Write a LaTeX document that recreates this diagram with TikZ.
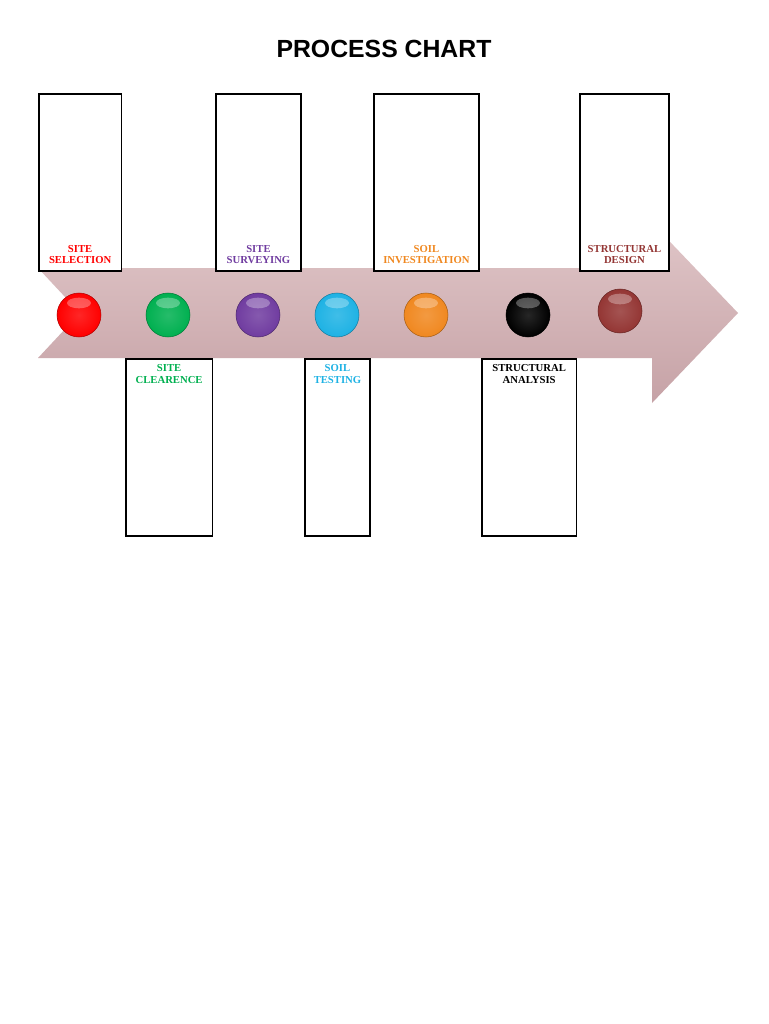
\documentclass[tikz,border=0pt]{standalone}
\usepackage{fontspec}
\setmainfont{Liberation Serif}
\newfontfamily\titlefont{Liberation Sans}
\definecolor{arrowtop}{RGB}{224,198,200}
\definecolor{arrowbot}{RGB}{198,162,166}
\definecolor{stepgreen}{RGB}{0,176,80}
\definecolor{steppurple}{RGB}{112,60,160}
\definecolor{stepcyan}{RGB}{30,178,228}
\definecolor{steporange}{RGB}{240,136,32}
\definecolor{stepbrown}{RGB}{148,54,52}
\tikzset{
  stepbox/.style={draw=black, line width=1.2pt, fill=white, inner sep=0pt},
  steplbl/.style={font=\bfseries\fontsize{8}{8.4}\selectfont, align=center, inner sep=0pt},
  ball/.style={circle, minimum size=33pt, inner sep=0pt, draw=#1!70!black, line width=0.4pt,
    inner color=#1!85!white, outer color=#1},
}

\begin{document}
\begin{tikzpicture}[x=0.75pt, y=-0.75pt]
  \useasboundingbox[fill=white] (0,0) rectangle (768,1024);

  % Title
  \node[font=\titlefont\bfseries\fontsize{18.6}{20}\selectfont] (title) at (384,49) {PROCESS CHART};

  % Arrow
  \shade[top color=arrowtop, bottom color=arrowbot]
    (38,268) -- (652,268) -- (652,223) -- (738,313) -- (652,403) -- (652,358)
    -- (38,358) -- (80,313) -- cycle;

  % Upper boxes
  \node[stepbox, minimum width=62pt, minimum height=133pt, anchor=north west] (sel) at (38,93) {};
  \node[stepbox, minimum width=64pt, minimum height=133pt, anchor=north west] (surv) at (215,93) {};
  \node[stepbox, minimum width=79pt, minimum height=133pt, anchor=north west] (inv) at (373,93) {};
  \node[stepbox, minimum width=67pt, minimum height=133pt, anchor=north west] (des) at (579,93) {};
  % Lower boxes
  \node[stepbox, minimum width=65pt, minimum height=133pt, anchor=north west] (clr) at (125,358) {};
  \node[stepbox, minimum width=49pt, minimum height=133pt, anchor=north west] (test) at (304,358) {};
  \node[stepbox, minimum width=71pt, minimum height=133pt, anchor=north west] (ana) at (481,358) {};

  % Labels
  \node[steplbl, text=red, anchor=south] (selt) at ([yshift=6pt]sel.south) {SITE\\SELECTION};
  \node[steplbl, text=steppurple, anchor=south] (survt) at ([yshift=6pt]surv.south) {SITE\\SURVEYING};
  \node[steplbl, text=steporange, anchor=south] (invt) at ([yshift=6pt]inv.south) {SOIL\\INVESTIGATION};
  \node[steplbl, text=stepbrown, anchor=south] (dest) at ([yshift=6pt]des.south) {STRUCTURAL\\DESIGN};
  \node[steplbl, text=stepgreen, anchor=north] (clrt) at ([yshift=-5pt]clr.north) {SITE\\CLEARENCE};
  \node[steplbl, text=stepcyan, anchor=north] (testt) at ([yshift=-5pt]test.north) {SOIL\\TESTING};
  \node[steplbl, text=black, anchor=north] (anat) at ([yshift=-5pt]ana.north) {STRUCTURAL\\ANALYSIS};

  % Balls
  \node[ball=red] (b1) at (79,315) {};
  \node[ball=stepgreen] (b2) at (168,315) {};
  \node[ball=steppurple] (b3) at (258,315) {};
  \node[ball=stepcyan] (b4) at (337,315) {};
  \node[ball=steporange] (b5) at (426,315) {};
  \node[ball=black] (b6) at (528,315) {};
  \node[ball=stepbrown] (b7) at (620,311) {};
  \foreach \b in {b1,b2,b3,b4,b5,b6,b7}
    \fill[white, opacity=0.3] ([yshift=9pt]\b.center) ellipse (9pt and 4pt);
\end{tikzpicture}
\end{document}
